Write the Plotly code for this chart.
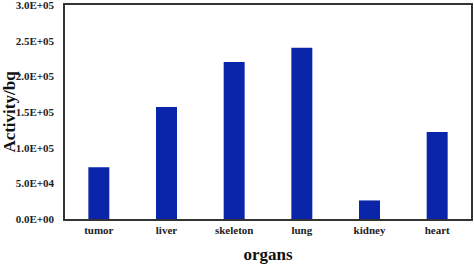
import plotly.graph_objects as go

categories = ["tumor", "liver", "skeleton", "lung", "kidney", "heart"]
activity = [7.25e4, 1.57e5, 2.2e5, 2.4e5, 2.6e4, 1.22e5]
y_ticks = [0, 5e4, 1e5, 1.5e5, 2e5, 2.5e5, 3e5]
y_tick_labels = ["0.0E+00", "5.0E+04", "1.0E+05", "1.5E+05", "2.0E+05", "2.5E+05", "3.0E+05"]

font_family = "Liberation Serif, Times New Roman, serif"

fig = go.Figure(go.Bar(
    x=categories, y=activity,
    marker=dict(color="#0A24AA", line=dict(width=0)),
    width=0.31,
))

fig.update_layout(
    width=474, height=264,
    margin=dict(l=65, r=3, t=5, b=45),
    paper_bgcolor="white", plot_bgcolor="white",
    showlegend=False,
    font=dict(family=font_family, color="#222222"),
)
fig.update_xaxes(
    showline=True, linecolor="#333333", linewidth=1.5, mirror=True,
    showgrid=False, ticks="", automargin=False,
    tickfont=dict(family=font_family, size=11, color="#222222", weight="bold"),
    title=dict(text="<b>organs</b>", font=dict(family=font_family, size=17, color="#111111"), standoff=16),
)
fig.update_yaxes(
    range=[0, 3e5], automargin=False,
    tickvals=y_ticks, ticktext=y_tick_labels,
    showline=True, linecolor="#333333", linewidth=1.5, mirror=True,
    showgrid=False, ticks="", zeroline=False,
    ticklabeloverflow="allow", ticklabelstandoff=7,
    tickfont=dict(family=font_family, size=11, color="#222222", weight="bold"),
    title=dict(text="<b>Activity/bq</b>", font=dict(family=font_family, size=17, color="#111111"), standoff=4),
)

fig.write_html("out.html")
